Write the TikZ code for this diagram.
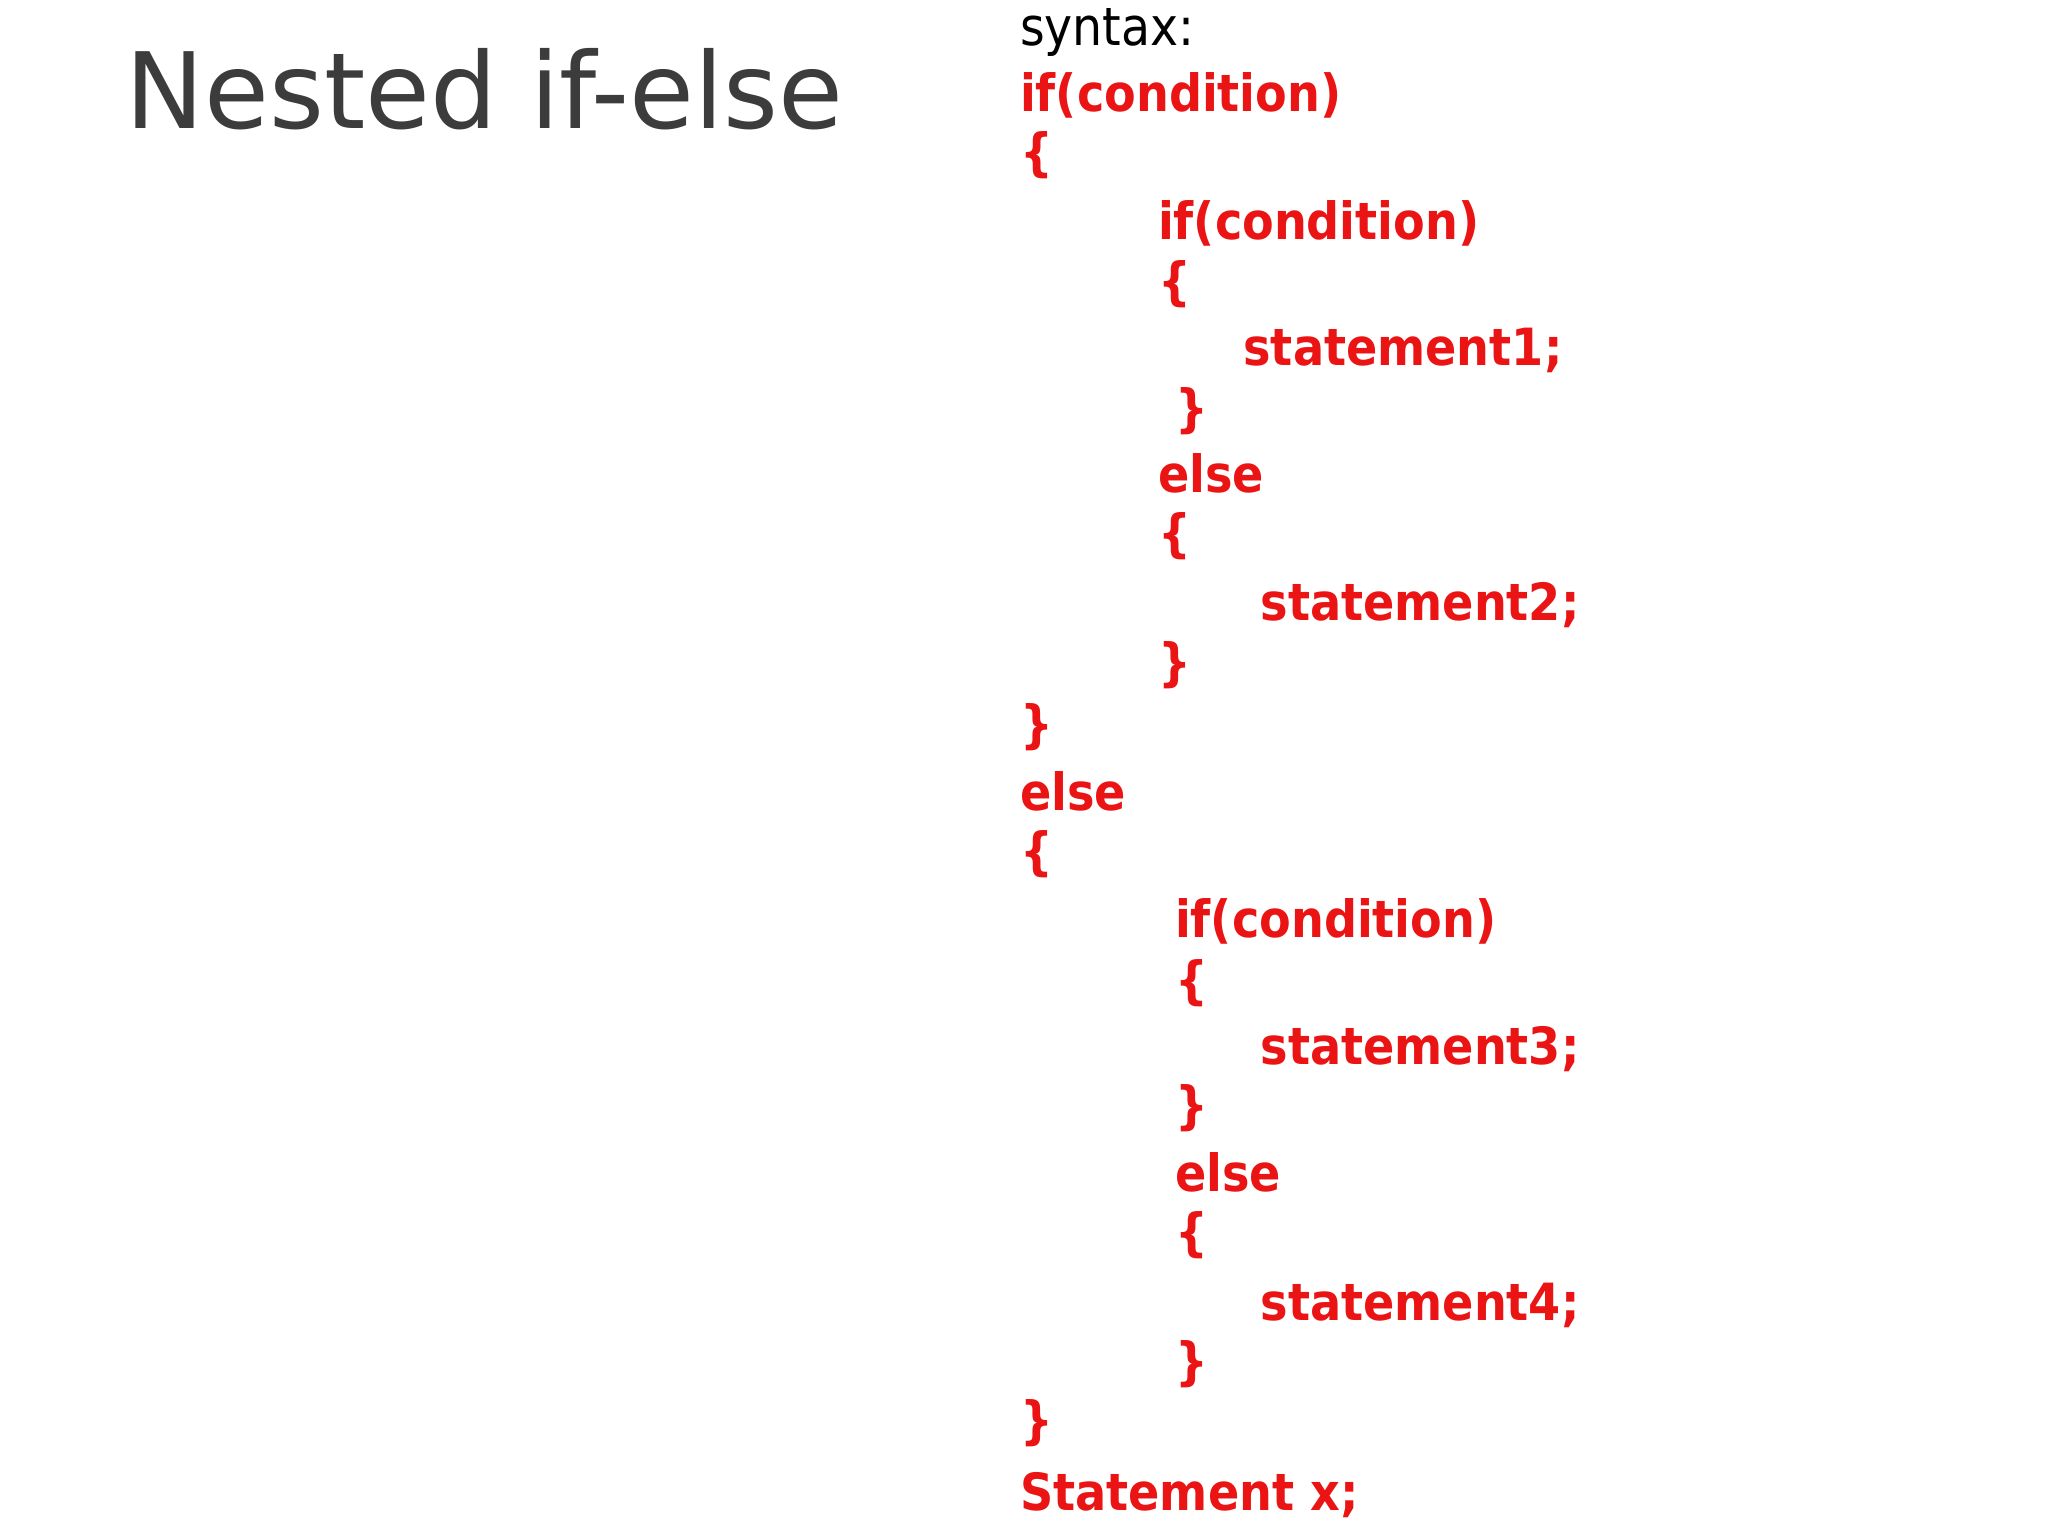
\documentclass[tikz,border=0pt]{standalone}
\usepackage{fontspec}
\setmainfont{DejaVu Sans}
\newfontfamily\codefont{DejaVu Sans Condensed}
\definecolor{codered}{RGB}{235,20,20}
\definecolor{titlegray}{RGB}{60,60,60}
\begin{document}
\begin{tikzpicture}[x=0.013137cm,y=-0.013137cm,
  code/.style={anchor=base west,inner sep=0pt,text=codered,font=\codefont\bfseries\fontsize{14.6}{18}\selectfont},
  blk/.style={anchor=base west,inner sep=0pt,text=black,font=\codefont\fontsize{15}{18}\selectfont}]
\useasboundingbox (0,0) rectangle (1559,1169);
\node[anchor=base west,inner sep=0pt,text=titlegray,font=\fontsize{30}{36}\selectfont] (title) at (95,98) {Nested if-else};
\node[blk] (syn) at (776,35) {syntax:};
\node[code] (l1) at (776,85) {if(condition)};
\node[code] (l2) at (776,130) {\{};
\node[code] (l3) at (881,182) {if(condition)};
\node[code] (l4) at (881,228) {\{};
\node[code] (l5) at (946,278) {statement1;};
\node[code] (l6) at (894,325) {\}};
\node[code] (l7) at (881,375) {else};
\node[code] (l8) at (881,420) {\{};
\node[code] (l9) at (959,472) {statement2;};
\node[code] (l10) at (881,518) {\}};
\node[code] (l11) at (776,565) {\}};
\node[code] (l12) at (776,617) {else};
\node[code] (l13) at (776,662) {\{};
\node[code] (l14) at (894,714) {if(condition)};
\node[code] (l15) at (894,760) {\{};
\node[code] (l16) at (959,810) {statement3;};
\node[code] (l17) at (894,855) {\}};
\node[code] (l18) at (894,907) {else};
\node[code] (l19) at (894,952) {\{};
\node[code] (l20) at (959,1005) {statement4;};
\node[code] (l21) at (894,1050) {\}};
\node[code] (l22) at (776,1095) {\}};
\node[code] (l23) at (776,1150) {Statement x;};
\end{tikzpicture}
\end{document}
